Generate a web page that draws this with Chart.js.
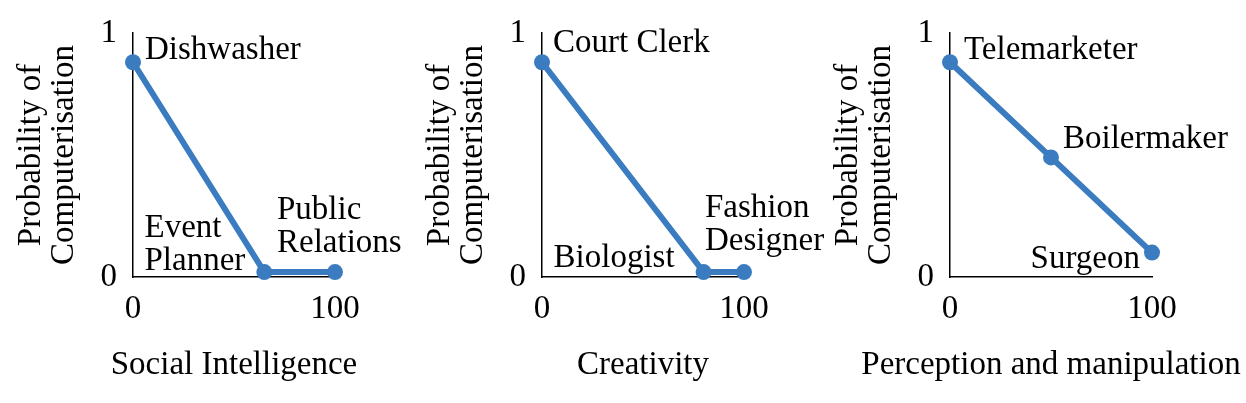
<!DOCTYPE html>
<html>
<head>
<meta charset="utf-8">
<script src="https://cdn.jsdelivr.net/npm/chart.js@4.4.1/dist/chart.umd.min.js"></script>
<style>
  html, body { margin: 0; padding: 0; background: #ffffff; }
  body { width: 1246px; height: 403px; position: relative; overflow: hidden; }
  canvas { position: absolute; top: 0; }
</style>
</head>
<body>
<canvas id="c1"></canvas>
<canvas id="c2"></canvas>
<canvas id="c3"></canvas>
<script>
// ---------------- DATA ----------------
const xTickValues = [0, 100];
const yTickValues = [0, 1];
const yAxisTitle = ['Probability of', 'Computerisation'];

const socialTitle = 'Social Intelligence';
const socialX = [0, 65, 100];
const socialY = [0.88, 0.02, 0.02];
const socialLabels = [['Dishwasher'], ['Event', 'Planner'], ['Public', 'Relations']];

const creativityTitle = 'Creativity';
const creativityX = [0, 80, 100];
const creativityY = [0.88, 0.02, 0.02];
const creativityLabels = [['Court Clerk'], ['Biologist'], ['Fashion', 'Designer']];

const perceptionTitle = 'Perception and manipulation';
const perceptionX = [0, 50, 100];
const perceptionY = [0.88, 0.49, 0.10];
const perceptionLabels = [['Telemarketer'], ['Boilermaker'], ['Surgeon']];

// ---------------- STYLE ----------------
const FONT = 'Liberation Serif';
const FS = 33;
const LINE_COLOR = '#3a7cbf';
const CANVAS_H = 403;

// label placement: side = which edge of the text block dx refers to, dy = baseline of last line
const labelPlacement = [
  [{side:'left', dx:12, dy:-3}, {side:'right', dx:-19, dy:-2}, {side:'left', dx:-58, dy:-20}],
  [{side:'left', dx:11, dy:-10}, {side:'right', dx:-29, dy:-5}, {side:'left', dx:-39, dy:-22}],
  [{side:'left', dx:14, dy:-3}, {side:'left', dx:12, dy:-9}, {side:'right', dx:-12, dy:15}]
];

const panels = [
  {id:'c1', left:0,   width:420, title:socialTitle, xs:socialX, ys:socialY, labels:socialLabels},
  {id:'c2', left:409, width:420, title:creativityTitle, xs:creativityX, ys:creativityY, labels:creativityLabels},
  {id:'c3', left:817, width:429, title:perceptionTitle, xs:perceptionX, ys:perceptionY, labels:perceptionLabels}
];

const AREA_LEFT = 133, AREA_RIGHT = 335, AREA_TOP = 33, AREA_BOTTOM = 277;

const pointLabelPlugin = {
  id: 'pointLabels',
  afterDatasetsDraw(chart, args, opts) {
    const ctx = chart.ctx;
    const meta = chart.getDatasetMeta(0);
    ctx.save();
    ctx.font = FS + 'px "' + FONT + '"';
    ctx.fillStyle = '#000';
    ctx.textBaseline = 'alphabetic';
    ctx.textAlign = 'left';
    meta.data.forEach((pt, i) => {
      const lines = opts.labels[i];
      const pl = opts.placement[i];
      const w = Math.max(...lines.map(l => ctx.measureText(l).width));
      const left = pl.side === 'left' ? pt.x + pl.dx : pt.x + pl.dx - w;
      const lastBase = pt.y + pl.dy;
      lines.forEach((l, j) => {
        ctx.fillText(l, left, lastBase - (lines.length - 1 - j) * FS);
      });
    });
    ctx.restore();
  }
};

const wideTitlePlugin = {
  id: 'wideTitle',
  beforeDraw(chart) {
    const s = chart.scales.x;
    if (s._wideTitle) return;
    const orig = s.drawTitle;
    s.drawTitle = function() {
      const l = this.left, r = this.right, c = (l + r) / 2;
      this.left = c - 500; this.right = c + 500;
      orig.call(this);
      this.left = l; this.right = r;
    };
    s._wideTitle = true;
  }
};

panels.forEach((p, idx) => {
  const cv = document.getElementById(p.id);
  cv.style.left = p.left + 'px';
  cv.width = p.width; cv.height = CANVAS_H;
  cv.style.width = p.width + 'px'; cv.style.height = CANVAS_H + 'px';
  const font = {family: FONT, size: FS, lineHeight: 1};
  new Chart(cv, {
    type: 'line',
    data: {
      datasets: [{
        data: p.xs.map((x, i) => ({x: x, y: p.ys[i]})),
        borderColor: LINE_COLOR,
        backgroundColor: LINE_COLOR,
        borderWidth: 6,
        pointRadius: 8,
        pointBackgroundColor: LINE_COLOR,
        pointBorderWidth: 0,
        tension: 0,
        clip: false
      }]
    },
    options: {
      responsive: false,
      animation: false,
      devicePixelRatio: 1,
      layout: {padding: {top: AREA_TOP, left: 0, right: p.width - AREA_RIGHT, bottom: 0}},
      plugins: {
        legend: {display: false},
        tooltip: {enabled: false},
        pointLabels: {labels: p.labels, placement: labelPlacement[idx]}
      },
      scales: {
        x: {
          type: 'linear', min: 0, max: 100,
          afterBuildTicks: s => { s.ticks = xTickValues.map(v => ({value: v})); },
          afterFit: s => { s.height = CANVAS_H - AREA_BOTTOM; },
          grid: {display: false, drawTicks: false},
          border: {display: true, color: '#000', width: 1.5},
          ticks: {color: '#000', font: font, padding: 16, maxRotation: 0},
          title: {display: true, text: p.title, color: '#000', font: font, padding: {top: 0, bottom: 21}}
        },
        y: {
          type: 'linear', min: 0, max: 1,
          afterBuildTicks: s => { s.ticks = yTickValues.map(v => ({value: v})); },
          afterFit: s => { s.width = AREA_LEFT; },
          grid: {display: false, drawTicks: false},
          border: {display: true, color: '#000', width: 1.5},
          ticks: {color: '#000', font: font, padding: 16},
          title: {display: true, text: yAxisTitle, color: '#000', font: font, padding: {top: 15, bottom: 0}}
        }
      }
    },
    plugins: [pointLabelPlugin, wideTitlePlugin]
  });
});
</script>
</body>
</html>
